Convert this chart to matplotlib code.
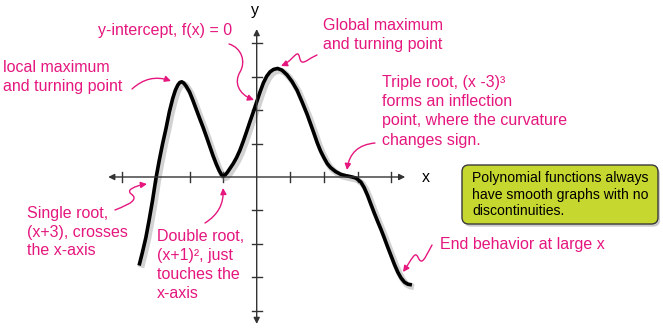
import matplotlib
matplotlib.use("Agg")
import matplotlib.pyplot as plt
from matplotlib.patches import FancyArrowPatch, FancyBboxPatch
from matplotlib.path import Path
import matplotlib.patheffects as pe

# curve (data units, one grid step = 1)
curve_x = [-3.50, -3.40, -3.30, -3.20, -3.10, -3.00, -2.90, -2.80, -2.70, -2.60,
           -2.50, -2.42, -2.35, -2.29, -2.23, -2.17, -2.10, -2.00, -1.90, -1.80,
           -1.70, -1.60, -1.50, -1.40, -1.30, -1.20, -1.12, -1.05, -1.00, -0.95,
           -0.88, -0.80, -0.70, -0.60, -0.50, -0.40, -0.30, -0.20, -0.10, 0.00,
           0.10, 0.20, 0.30, 0.40, 0.50, 0.62, 0.75, 0.90, 1.05, 1.20,
           1.35, 1.50, 1.60, 1.70, 1.80, 1.90, 2.00, 2.10, 2.20, 2.35,
           2.50, 2.65, 2.80, 2.95, 3.10, 3.20, 3.30, 3.40, 3.50, 3.60,
           3.70, 3.80, 3.90, 4.00, 4.10, 4.20, 4.30, 4.40, 4.50, 4.62]
curve_y = [-2.65, -2.25, -1.82, -1.28, -0.70, -0.05, 0.50, 1.00, 1.45, 1.95,
           2.35, 2.60, 2.75, 2.83, 2.85, 2.81, 2.72, 2.55, 2.30, 2.03,
           1.76, 1.50, 1.22, 0.93, 0.64, 0.38, 0.20, 0.07, 0.03, 0.05,
           0.13, 0.25, 0.40, 0.58, 0.80, 1.07, 1.36, 1.66, 1.95, 2.25,
           2.55, 2.82, 3.02, 3.15, 3.22, 3.25, 3.20, 3.06, 2.86, 2.60,
           2.25, 1.88, 1.60, 1.32, 1.03, 0.78, 0.58, 0.40, 0.28, 0.16,
           0.08, 0.04, 0.01, -0.03, -0.15, -0.32, -0.55, -0.82, -1.08, -1.33,
           -1.57, -1.83, -2.10, -2.36, -2.62, -2.85, -3.03, -3.15, -3.21, -3.23]

x_ticks = [-4, -3, -2, -1, 1, 2, 3, 4]
y_ticks = [-4, -3, -2, -1, 1, 2, 3, 4]

pink = '#e5177e'
axis_col = '#333333'
plt.rcParams['font.family'] = ['Liberation Sans', 'DejaVu Sans']

W, H = 663, 328
fig = plt.figure(figsize=(W / 100, H / 100), dpi=100)
ax = fig.add_axes([0, 0, 1, 1])
ax.set_axis_off()
# pixel (from top-left) -> data
X0, Y0, SX, SY = 256.7, 177.0, 33.6, 33.4
ax.set_xlim(-X0 / SX, (W - X0) / SX)
ax.set_ylim((Y0 - H) / SY, Y0 / SY)


def px(x, y):
    return ((x - X0) / SX, (Y0 - y) / SY)


# axes with arrows
for a, b in [((-4.42, 0), (4.42, 0)), ((0, -4.40), (0, 4.43))]:
    ax.annotate('', xy=b, xytext=a,
                arrowprops=dict(arrowstyle='<|-|>', color=axis_col, lw=1.0,
                                mutation_scale=9, shrinkA=0, shrinkB=0))
for t in x_ticks:
    ax.plot([t, t], [-0.15, 0.15], color=axis_col, lw=1.0)
for t in y_ticks:
    ax.plot([-0.15, 0.15], [t, t], color=axis_col, lw=1.0)
ax.text(*px(426, 177), 'x', fontsize=11.5, ha='center', va='center', color='black')
ax.text(*px(255, 10), 'y', fontsize=11.5, ha='center', va='center', color='black')

# the polynomial curve
ax.plot(curve_x, curve_y, color='black', lw=2.6, solid_capstyle='butt',
        solid_joinstyle='round',
        path_effects=[pe.SimpleLineShadow(offset=(1.5, -1.5), shadow_color='gray',
                                          alpha=0.35, linewidth=4.5),
                      pe.Normal()])


def block(x, y, lines, step, ha='left', **kw):
    for i, s in enumerate(lines):
        ax.text(*px(x, y + i * step), s, ha=ha, va='baseline', **kw)


# pink labels
pk = dict(fontsize=11.5, color=pink)
block(3, 72, ['local maximum', 'and turning point'], 19, **pk)
block(232, 35, ['y-intercept, f(x) = 0'], 19, ha='right', **pk)
block(323, 30, ['Global maximum', 'and turning point'], 19, **pk)
block(382, 87, ['Triple root, (x -3)\u00b3', 'forms an inflection',
                'point, where the curvature', 'changes sign.'], 19.2, **pk)
block(27, 218, ['Single root,', '(x+3), crosses', 'the x-axis'], 18.7, **pk)
block(157, 241, ['Double root,', '(x+1)\u00b2, just', 'touches the', 'x-axis'], 19.1, **pk)
block(440, 249, ['End behavior at large x'], 19, **pk)

# pink arrows: simple arcs
arcs = [((132, 89), (171, 81), -0.3),
        ((375, 143), (347, 170), 0.4),
        ((205, 223), (223, 188), 0.3)]
for a, b, rad in arcs:
    ax.add_patch(FancyArrowPatch(px(*a), px(*b), connectionstyle=f'arc3,rad={rad}',
                                 arrowstyle='-|>', mutation_scale=9, lw=1.0,
                                 color=pink, shrinkA=0, shrinkB=0))

# pink arrows: squiggles (bezier, in pixel positions)
squiggles = [
    [(229, 44), (242, 48), (246, 62), (240, 72), (234, 82), (238, 94), (254, 100)],
    [(317, 55), (310, 58), (305, 63), (302, 62), (299, 61), (300, 53), (297, 54),
     (294, 55), (290, 62), (281, 66)],
    [(115, 210), (122, 207), (134, 203), (134, 198), (134, 194), (128, 194),
     (130, 190), (133, 187), (140, 185), (147, 184)],
    [(432, 245), (428, 252), (424, 262), (421, 261), (418, 260), (418, 254),
     (415, 255), (412, 257), (408, 265), (403, 272)],
]
for pts in squiggles:
    verts = [px(*p) for p in pts]
    codes = [Path.MOVETO] + [Path.CURVE4] * (len(verts) - 1)
    ax.add_patch(FancyArrowPatch(path=Path(verts, codes), arrowstyle='-|>',
                                 mutation_scale=9, lw=1.0, color=pink))

# green note box with shadow
bx0, by0 = px(462, 224)
bx1, by1 = px(658, 165)
ax.add_patch(FancyBboxPatch((bx0 + 0.06, by0 - 0.08), bx1 - bx0, by1 - by0,
                            boxstyle='round,pad=0,rounding_size=0.2',
                            fc='#999999', ec='none', alpha=0.5))
ax.add_patch(FancyBboxPatch((bx0, by0), bx1 - bx0, by1 - by0,
                            boxstyle='round,pad=0,rounding_size=0.2',
                            fc='#c6d72f', ec='#3a3a3a', lw=1.0))
block(472, 182, ['Polynomial functions always', 'have smooth graphs with no',
                 'discontinuities.'], 16.7, fontsize=10.1, color='black')

fig.savefig('out.png', dpi=100)
